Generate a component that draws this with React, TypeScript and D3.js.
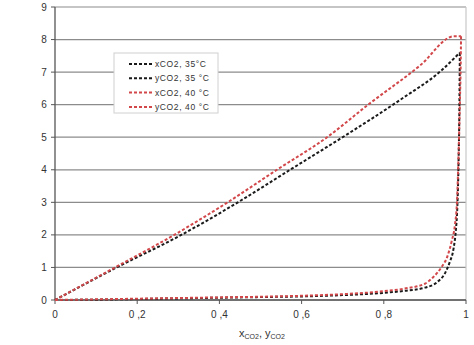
import React from "react";
import * as d3 from "d3";

const xTicks = [0, 0.2, 0.4, 0.6, 0.8, 1];
const yTicks = [0, 1, 2, 3, 4, 5, 6, 7, 8, 9];

const x35X = [0, 0.1, 0.2, 0.3, 0.4, 0.5, 0.6, 0.7, 0.8, 0.85, 0.9, 0.93, 0.95, 0.96, 0.97, 0.975, 0.979, 0.982, 0.984, 0.985];
const x35P = [0, 0.01, 0.03, 0.05, 0.07, 0.09, 0.11, 0.15, 0.22, 0.28, 0.38, 0.55, 0.85, 1.15, 1.6, 2.1, 2.9, 4.3, 6.0, 7.6];

const y35X = [0, 0.15, 0.3, 0.445, 0.572, 0.706, 0.84, 0.94, 0.985];
const y35P = [0, 1, 1.95, 3, 4, 5.05, 6.15, 7.05, 7.6];

const x40X = [0, 0.1, 0.2, 0.3, 0.4, 0.5, 0.6, 0.7, 0.8, 0.85, 0.9, 0.92, 0.94, 0.955, 0.965, 0.973, 0.978, 0.982, 0.985, 0.987, 0.988];
const x40P = [0, 0.02, 0.04, 0.06, 0.08, 0.1, 0.13, 0.18, 0.27, 0.35, 0.5, 0.7, 1.0, 1.35, 1.8, 2.3, 3.0, 4.5, 6.0, 7.2, 8.1];

const y40X = [0, 0.146, 0.29, 0.42, 0.54, 0.662, 0.762, 0.888, 0.971, 0.988];
const y40P = [0, 1, 2, 3, 4, 5, 6, 7.2, 8.1, 8.1];

const seriesNames = ["xCO2, 35°C", "yCO2, 35 °C", "xCO2, 40 °C", "yCO2, 40 °C"];

const BLACK = "#1a1a1a";
const RED = "#d2474a";

export default function App() {
  const W = 474, H = 345;
  const x = d3.scaleLinear().domain([0, 1]).range([55, 466]);
  const y = d3.scaleLinear().domain([0, 9]).range([300, 7]);
  const line = d3
    .line<[number, number]>()
    .x((d) => x(d[0]))
    .y((d) => y(d[1]))
    .curve(d3.curveMonotoneX);
  const zip = (a: number[], b: number[]) => a.map((v, i) => [v, b[i]] as [number, number]);

  const series = [
    { name: seriesNames[0], d: zip(x35X, x35P), c: BLACK },
    { name: seriesNames[1], d: zip(y35X, y35P), c: BLACK },
    { name: seriesNames[2], d: zip(x40X, x40P), c: RED },
    { name: seriesNames[3], d: zip(y40X, y40P), c: RED },
  ];

  const font = "'Liberation Sans Narrow', 'Liberation Sans', Arial, sans-serif";

  return (
    <svg
      width={W}
      height={H}
      style={{ position: "absolute", left: 0, top: 0, background: "#fff" }}
      fontFamily={font}
    >
      {yTicks.map((t) => (
        <line key={"g" + t} x1={x(0)} x2={x(1)} y1={y(t)} y2={y(t)} stroke="#8c8c8c" strokeWidth={1.2} />
      ))}
      <line x1={x(1)} x2={x(1)} y1={y(9)} y2={y(0)} stroke="#c8c8c8" strokeWidth={1.2} />
      <line x1={x(0)} x2={x(0)} y1={y(9)} y2={y(0)} stroke="#555" strokeWidth={1.3} />
      <line x1={x(0)} x2={x(1)} y1={y(0)} y2={y(0)} stroke="#555" strokeWidth={1.3} />
      {yTicks.map((t) => (
        <g key={"yt" + t}>
          <line x1={x(0) - 4} x2={x(0)} y1={y(t)} y2={y(t)} stroke="#555" />
          <text x={44} y={y(t) + 3.5} fontSize={10} textAnchor="middle" fill="#333">
            {t}
          </text>
        </g>
      ))}
      {xTicks.map((t) => (
        <g key={"xt" + t}>
          <line x1={x(t)} x2={x(t)} y1={y(0)} y2={y(0) + 4} stroke="#555" />
          <text x={x(t)} y={318} fontSize={10} textAnchor="middle" fill="#333">
            {String(t).replace(".", ",").replace("0,", "0 ,")}
          </text>
        </g>
      ))}
      <text x={262} y={337} fontSize={11} textAnchor="middle" fill="#333">
        <tspan>x</tspan>
        <tspan fontSize={7} dy={2}>CO2</tspan>
        <tspan dy={-2}>, y</tspan>
        <tspan fontSize={7} dy={2}>CO2</tspan>
      </text>

      {series.map((s) => (
        <path
          key={s.name}
          d={line(s.d) || ""}
          fill="none"
          stroke={s.c}
          strokeWidth={2}
          strokeDasharray="3,2"
        />
      ))}

      <rect x={114} y={53} width={104} height={60} fill="#fff" stroke="#d0d0d0" strokeWidth={1} />
      {series.map((s, i) => (
        <g key={"l" + i}>
          <line
            x1={129}
            x2={153}
            y1={64 + i * 14.3}
            y2={64 + i * 14.3}
            stroke={s.c}
            strokeWidth={2}
            strokeDasharray="3,2"
          />
          <text x={155} y={67 + i * 14.3} fontSize={8.5} fill="#333" letterSpacing={0.6}>
            {s.name}
          </text>
        </g>
      ))}
    </svg>
  );
}
